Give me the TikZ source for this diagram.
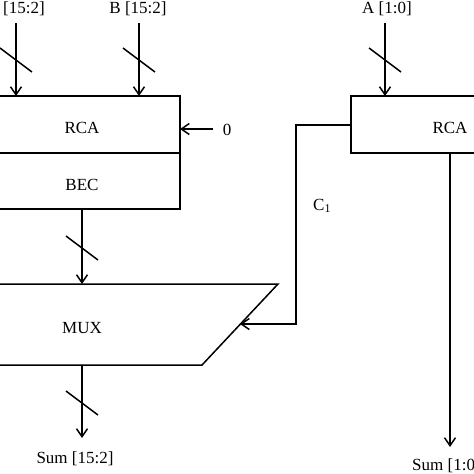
\documentclass[tikz,border=0pt]{standalone}
\usepackage{fontspec}
\setmainfont{Liberation Serif}
\usetikzlibrary{arrows.meta}
\tikzset{
  wire/.style={line width=1.5pt},
  arr/.style={wire,-{Straight Barb[length=8pt,width=11pt,line width=1.5pt]}},
  lbl/.style={font=\fontsize{17}{20}\selectfont,inner sep=0pt,anchor=base},
  busmark/.style={line width=1.5pt}
}
\begin{document}
\begin{tikzpicture}[x=1pt,y=-1pt]
\useasboundingbox (0,0) rectangle (474,474);
% blocks
\draw[wire] (0,96) -- (180,96) -- (180,209) -- (0,209);
\draw[wire] (0,153) -- (180,153);
\draw[wire] (474,96) -- (351,96) -- (351,153) -- (474,153);
\draw[wire] (0,284) -- (278,284) -- (202,365) -- (0,365);
% texts
\node[lbl] (rcaL) at (82,133) {RCA};
\node[lbl] (bec) at (82,190) {BEC};
\node[lbl] (mux) at (82,333) {MUX};
\node[lbl] (rcaR) at (450,133) {RCA};
\node[lbl,anchor=base west] (inA) at (3,13) {[15:2]};
\node[lbl] (inB) at (138,13) {B [15:2]};
\node[lbl] (inA2) at (387,13) {A [1:0]};
\node[lbl] (zero) at (227,135) {0};
\node[lbl,anchor=base west] (c1) at (313,210) {C\textsubscript{1}};
\node[lbl] (sumH) at (75,463) {Sum [15:2]};
\node[lbl,anchor=base west] (sumL) at (412,470) {Sum [1:0]};
% connector points
\coordinate (a0) at (16,23); \coordinate (a1) at (16,96);
\coordinate (b0) at (139,23); \coordinate (b1) at (139,96);
\coordinate (c0) at (385,23); \coordinate (c1p) at (385,96);
\coordinate (z0) at (213,129); \coordinate (z1) at (180,129);
\coordinate (m0) at (82,209); \coordinate (m1) at (82,284);
\coordinate (s0) at (82,365); \coordinate (s1) at (82,438);
\coordinate (k0) at (351,125); \coordinate (k1) at (296,125);
\coordinate (k2) at (296,324); \coordinate (k3) at (240,324);
\coordinate (r0) at (450,153); \coordinate (r1) at (450,447);
% arrows
\draw[arr] (a0) -- (a1);
\draw[arr] (b0) -- (b1);
\draw[arr] (c0) -- (c1p);
\draw[arr] (z0) -- (z1);
\draw[arr] (m0) -- (m1);
\draw[arr] (s0) -- (s1);
\draw[arr] (k0) -- (k1) -- (k2) -- (k3);
\draw[arr] (r0) -- (r1);
% bus marks
\foreach \p in {(16,60),(139,60),(385,60),(82,248),(82,403)}
  \draw[busmark] \p ++(-16,-12) -- ++(32,24);
\end{tikzpicture}
\end{document}
